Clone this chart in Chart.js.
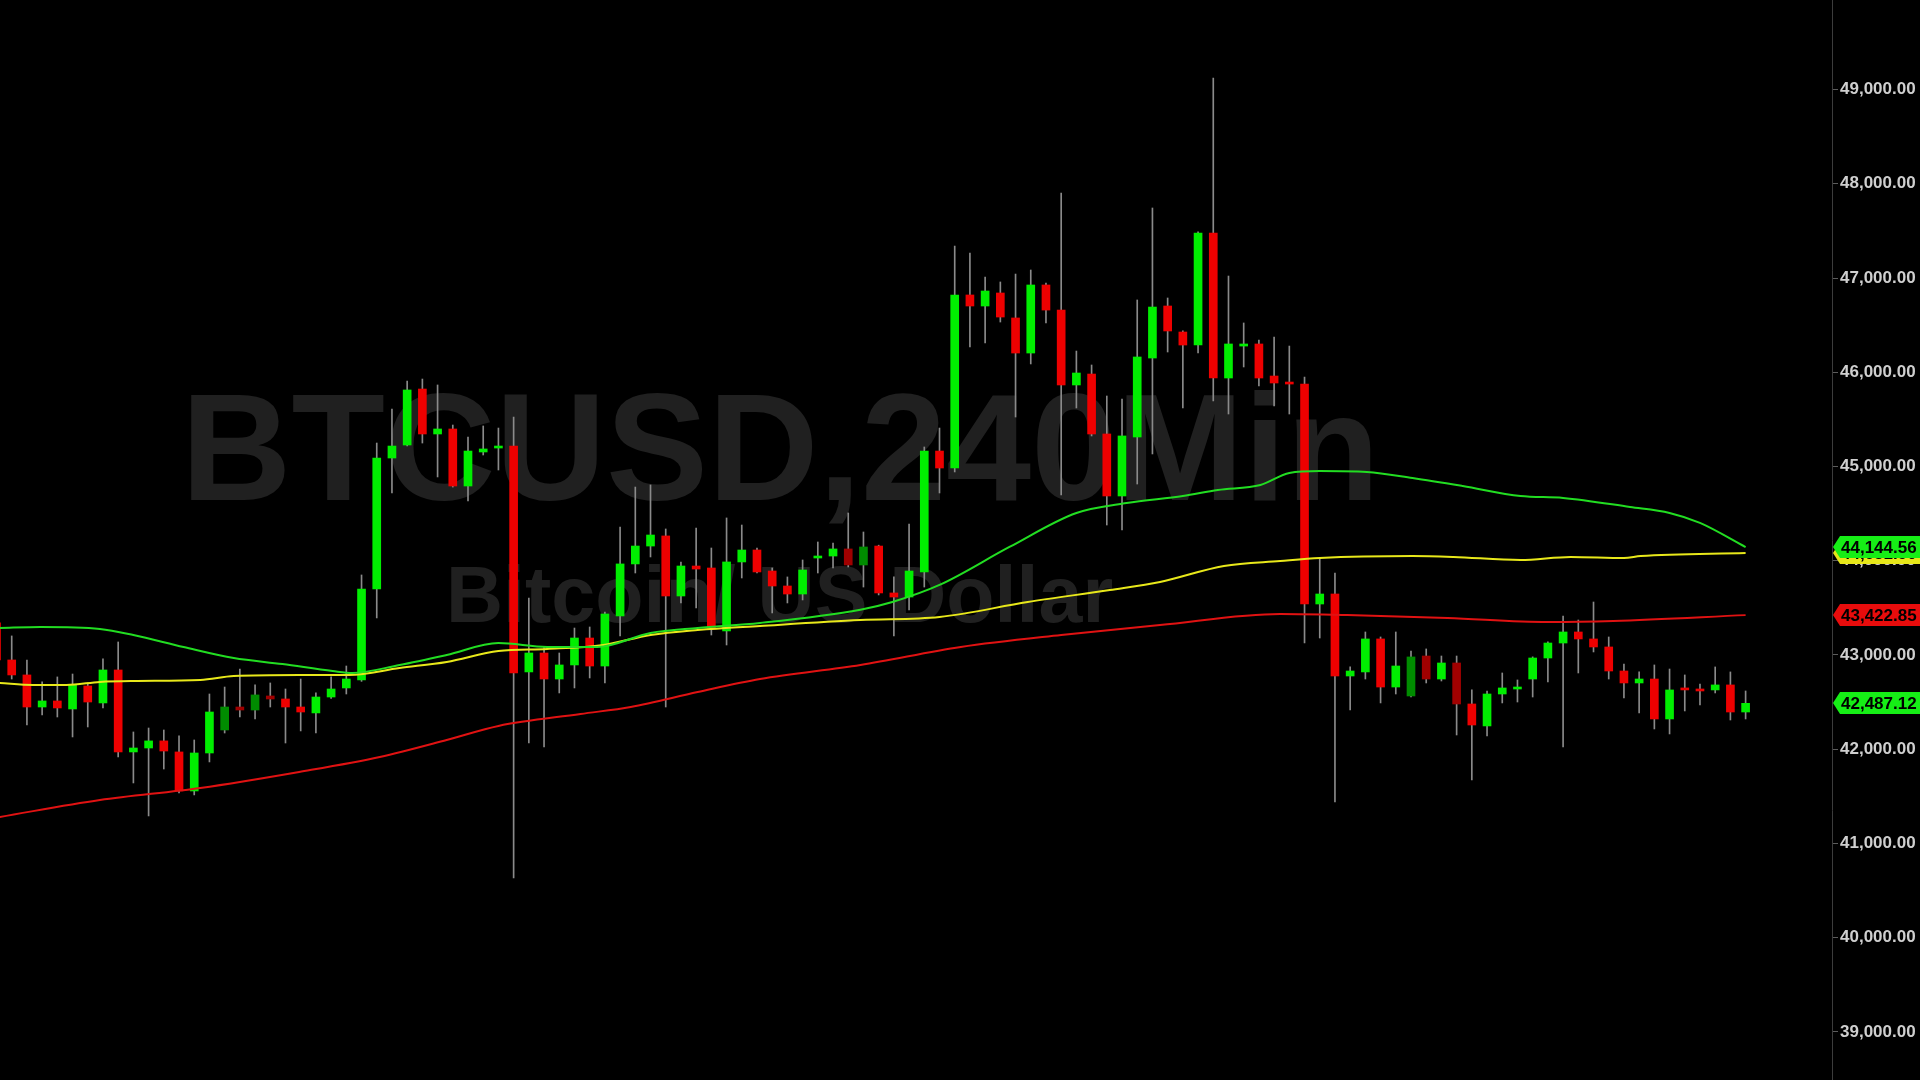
<!DOCTYPE html>
<html>
<head>
<meta charset="utf-8">
<title>BTCUSD 240Min</title>
<script src="https://cdn.jsdelivr.net/npm/chart.js@4.4.1/dist/chart.umd.min.js"></script>
<style>
html,body{margin:0;padding:0;background:#000;overflow:hidden;}
#wrap{width:1920px;height:1080px;position:relative;}
canvas{display:block;}
</style>
</head>
<body>
<div id="wrap"><canvas id="c" width="1920" height="1080"></canvas></div>
<script>
// ---- data (240-minute candles, oldest first) ----
const opens = [43340,42947,42788,42448,42512,42427,42671,42491,42841,41971,
  42013,42088,41971,41557,41960,42204,42448,42416,42565,42533,
  42448,42385,42554,42650,42735,43700,45090,45228,45822,45345,
  45398,44793,45154,45196,45217,42820,43021,42745,42894,43180,
  42883,43414,43966,44156,44263,43626,43944,43923,43255,43987,
  44114,43891,43732,43647,44029,44050,44125,43955,44156,43658,
  43615,43881,45164,44984,46820,46703,46841,46576,46204,46926,
  46660,45865,45981,45345,44687,45313,46151,46703,46427,46289,
  47477,45939,46278,46300,45960,45886,45875,43541,43647,42777,
  42820,43170,42660,42565,42989,42745,42915,42480,42247,42586,
  42639,42745,42968,43127,43244,43170,43085,42830,42703,42745,
  42321,42639,42629,42629,42682,42395];
const highs = [43424,43202,42947,42714,42767,42798,42703,42958,43138,42183,
  42225,42204,42141,42098,42586,42660,42851,42682,42703,42639,
  42745,42597,42767,42883,43849,45249,45610,45907,45928,45865,
  45440,45313,45430,45408,45525,43605,43085,43021,43286,43297,
  43456,44358,44782,44804,44337,43987,44347,44135,44454,44379,
  44135,43923,43828,44008,44199,44188,44507,44305,44165,43828,
  44390,45207,45408,47339,47265,47011,46958,47042,47085,46947,
  47902,46225,46077,45748,45716,46767,47743,46788,46440,47490,
  49122,47021,46523,46342,46374,46278,45950,44029,43870,42873,
  43244,43191,43244,43042,43064,42989,42989,42629,42618,42809,
  42735,42980,43140,43414,43371,43562,43191,42904,42820,42894,
  42851,42788,42692,42873,42820,42618];
const lows = [42880,42745,42257,42363,42342,42130,42236,42438,41918,41642,
  41292,41790,41536,41515,41865,42172,42342,42321,42448,42066,
  42194,42172,42540,42586,42720,43393,44719,45217,45249,44889,
  44782,44634,45122,44963,40634,42066,42024,42597,42650,42756,
  42703,43202,43870,44040,42448,43552,43499,43212,43106,43817,
  43870,43446,43552,43584,43870,43923,43934,43721,43637,43202,
  43477,43721,44719,44942,46268,46310,46533,45525,46088,46523,
  44698,45621,45324,44379,44326,44814,45133,46215,45621,46204,
  45695,45557,46056,45854,45642,45557,43127,43180,41440,42416,
  42745,42491,42586,42554,42703,42724,42151,41674,42141,42491,
  42501,42554,42714,42024,42809,43032,42745,42544,42385,42215,
  42162,42406,42470,42597,42310,42321];
const closes = [42947,42788,42448,42512,42438,42682,42501,42841,41971,42013,
  42088,41981,41557,41960,42395,42448,42416,42576,42533,42448,
  42395,42554,42639,42745,43700,45090,45217,45812,45345,45398,
  44793,45164,45186,45217,42809,43021,42745,42894,43180,42883,
  43435,43966,44156,44273,43626,43944,43912,43286,43987,44114,
  43881,43732,43647,43902,44050,44125,43955,44146,43658,43615,
  43891,45164,44984,46820,46703,46862,46586,46204,46926,46660,
  45865,45992,45345,44687,45324,46162,46692,46438,46289,47477,
  45939,46300,46300,45939,45886,45875,43541,43647,42777,42830,
  43170,42660,42883,42979,42745,42915,42480,42257,42586,42650,
  42660,42968,43127,43244,43170,43085,42830,42703,42745,42321,
  42629,42629,42618,42682,42395,42487.12];
// candles drawn in the darker shade in the reference
const mutedCandles = [15,16,17,18,56,57,93,94,96];

// moving averages, read at candle positions
const maGreenAt = [0.2,2.9,6.8,9.0,12.3,15.6,18.8,22.1,23.4,26.5,29.6,33.0,36.2,39.5,43.0,46.1,50.2,56.8,58.9,62.0,66.6,71.0,74.3,78.0,80.3,83.1,85.0,87.0,90.1,93.1,96.4,100.2,103.0,107.4,110.0,112.0,115];
const maGreen   = [43286,43297,43276,43212,43085,42968,42904,42830,42809,42894,43000,43127,43085,43085,43233,43286,43340,43480,43562,43743,44146,44507,44613,44687,44751,44804,44931,44952,44942,44878,44793,44687,44666,44570,44507,44401,44144.56];
const maYellowAt = [0.2,2.4,4.6,6.8,9.0,13.4,15.6,19.9,23.2,26.5,29.6,33.0,36.2,39.9,43.0,46.1,50.2,56.8,62.0,67.8,73.2,76.5,80.7,84.4,87.0,93.1,95.8,100.2,103.5,107.0,108.1,115];
const maYellow   = [42703,42682,42682,42714,42724,42735,42777,42788,42788,42862,42926,43042,43064,43106,43212,43265,43308,43371,43403,43562,43690,43775,43944,43997,44029,44050,44040,44008,44040,44029,44050,44081.90];
const maRedAt = [0.2,6.8,13.4,19.9,25.2,29.6,33.0,38.4,41.7,46.1,50.2,56.8,63.4,70.0,76.5,84.4,88.8,95.4,102.0,106.3,115];
const maRed   = [41281,41461,41589,41759,41918,42098,42247,42374,42448,42607,42745,42894,43085,43212,43318,43435,43424,43393,43350,43361,43422.85];

const yTickValues = [39000,40000,41000,42000,43000,44000,45000,46000,47000,48000,49000];
const tagValues = [44081.90, 43422.85, 42487.12, 44144.56];
const watermarkTitle = 'BTCUSD,240Min';
const watermarkSubtitle = 'Bitcoin/ US Dollar';

// ---- styles ----
const UP = '#00ee00', DOWN = '#ee0000', UP_MUTED = '#008c00', DOWN_MUTED = '#a00000';
const tagColors = ['#e6e619', '#e80c0c', '#16ee16', '#16ee16'];
const fmt = v => v.toLocaleString('en-US', {minimumFractionDigits: 2, maximumFractionDigits: 2});

const idx = opens.map((_, i) => i);
const wickData = idx.map(i => ({x: i, y: [lows[i], highs[i]]}));
const bodyData = idx.map(i => ({x: i, y: [opens[i], closes[i]]}));
const bodyColors = idx.map(i => {
  const up = closes[i] >= opens[i];
  const muted = mutedCandles.includes(i);
  return up ? (muted ? UP_MUTED : UP) : (muted ? DOWN_MUTED : DOWN);
});
const toPts = (xs, ys) => xs.map((x, k) => ({x: x, y: ys[k]}));

const watermark = {
  id: 'watermark',
  beforeDatasetsDraw(chart) {
    const ctx = chart.ctx;
    ctx.save();
    ctx.fillStyle = '#202020';
    ctx.textAlign = 'left';
    ctx.textBaseline = 'alphabetic';
    ctx.font = 'bold 153px "Liberation Sans", Arial, sans-serif';
    ctx.fillText(watermarkTitle, 181, 500);
    ctx.font = 'bold 79px "Liberation Sans", Arial, sans-serif';
    ctx.fillText(watermarkSubtitle, 446, 622);
    ctx.restore();
  }
};

const priceTags = {
  id: 'priceTags',
  afterDraw(chart) {
    const ctx = chart.ctx;
    const ys = chart.scales.y;
    const x0 = ys.left + 1;
    ctx.save();
    tagValues.forEach((v, k) => {
      const y = Math.round(ys.getPixelForValue(v));
      const h = 11;
      ctx.fillStyle = tagColors[k];
      ctx.beginPath();
      ctx.moveTo(x0, y);
      ctx.lineTo(x0 + 7, y - h);
      ctx.lineTo(1920, y - h);
      ctx.lineTo(1920, y + h);
      ctx.lineTo(x0 + 7, y + h);
      ctx.closePath();
      ctx.fill();
      ctx.fillStyle = '#000';
      ctx.font = 'bold 17px "Liberation Sans", Arial, sans-serif';
      ctx.textAlign = 'left';
      ctx.textBaseline = 'middle';
      ctx.fillText(fmt(v), x0 + 8, y + 1);
    });
    ctx.restore();
  }
};

const lineDs = (label, pts, color) => ({
  type: 'line', label, data: pts, borderColor: color, borderWidth: 2,
  pointRadius: 0, fill: false, cubicInterpolationMode: 'monotone', order: 0
});

new Chart(document.getElementById('c'), {
  type: 'bar',
  data: {
    datasets: [
      {label: 'wick', data: wickData, backgroundColor: '#8a8a8a', barThickness: 1, grouped: false, order: 2},
      {label: 'body', data: bodyData, backgroundColor: bodyColors, barThickness: 8, minBarLength: 2, grouped: false, order: 1},
      lineDs('MA green', toPts(maGreenAt, maGreen), '#22dd22'),
      lineDs('MA yellow', toPts(maYellowAt, maYellow), '#e8e81a'),
      lineDs('MA red', toPts(maRedAt, maRed), '#e01212')
    ]
  },
  options: {
    responsive: false,
    animation: false,
    devicePixelRatio: 1,
    layout: {padding: 0},
    plugins: {legend: {display: false}, tooltip: {enabled: false}},
    scales: {
      x: {
        type: 'linear', min: 0.23, max: 120.68, display: false, offset: false,
        grid: {offset: false},
        afterFit: s => { s.paddingLeft = 0; s.paddingRight = 0; s.height = 0; }
      },
      y: {
        type: 'linear', position: 'right', min: 38490, max: 49950,
        afterBuildTicks: s => { s.ticks = yTickValues.map(v => ({value: v})); },
        afterFit: s => { s.width = 88; s.paddingTop = 0; s.paddingBottom = 0; },
        grid: {drawOnChartArea: false, drawTicks: true, tickLength: 6, color: '#5c5c5c', lineWidth: 1},
        border: {display: true, color: '#3c3c3c', width: 1},
        ticks: {
          color: '#cfcfcf', padding: 2,
          font: {family: '"Liberation Sans", Arial, sans-serif', size: 17, weight: 'bold'},
          callback: v => fmt(v)
        }
      }
    }
  },
  plugins: [watermark, priceTags]
});
</script>
</body>
</html>
